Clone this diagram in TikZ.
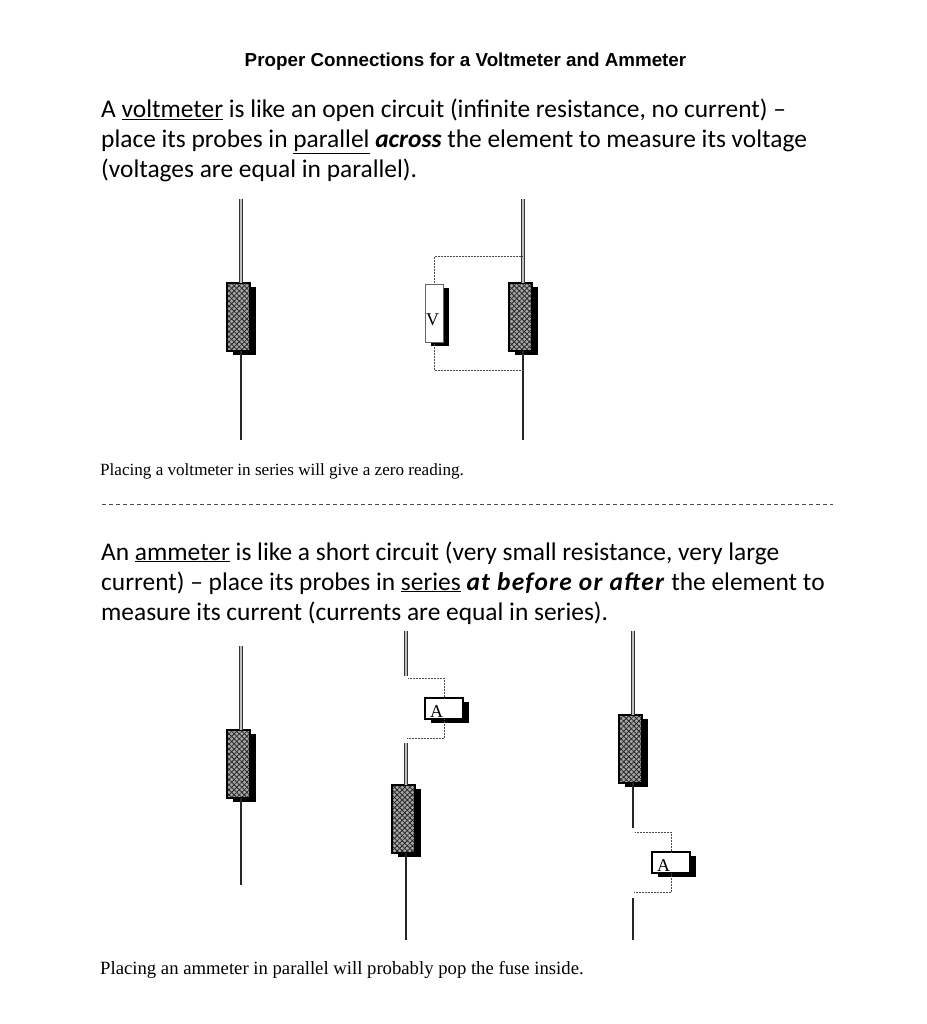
\documentclass[tikz,border=0pt]{standalone}
\usepackage{fontspec}
\setmainfont{Liberation Serif}
\newfontfamily\titlefont{Liberation Sans}
\newfontfamily\handfont{Carlito}
\usetikzlibrary{patterns.meta,shadows}
\tikzset{
  headline/.style={font=\titlefont\bfseries\fontsize{18.8}{20}\selectfont},
  handline/.style={anchor=base west, inner sep=0pt, font=\handfont\fontsize{25.4}{30}\selectfont},
  noteline/.style={anchor=base west, inner sep=0pt, font=\fontsize{17.1}{18}\selectfont},
  fuse/.style={draw=black, line width=1.2pt, inner sep=0pt, outer sep=0pt,
    minimum width=23pt, minimum height=68pt,
    drop shadow={shadow xshift=6pt, shadow yshift=-4pt, fill=black, opacity=1},
    preaction={fill=black!35},
    preaction={pattern={Lines[angle=45, distance=3.6pt, line width=0.8pt]}, pattern color=black!85},
    pattern={Lines[angle=-45, distance=3.6pt, line width=0.8pt]}, pattern color=black!85},
  meter/.style={draw=black, fill=white, inner sep=0pt, outer sep=0pt,
    drop shadow={shadow xshift=6pt, shadow yshift=-4pt, fill=black, opacity=1}},
  meterlabel/.style={anchor=base west, inner sep=0pt, font=\fontsize{18}{20}\selectfont},
  leadpair/.style={line width=1pt, black!80, double=white!75!black, double distance=1.5pt},
  leadone/.style={line width=1.4pt, black!85},
  probe/.style={line width=0.5pt, densely dotted, black!70}
}
\begin{document}
\begin{tikzpicture}[x=1pt,y=-1pt]
\useasboundingbox (0,0) rectangle (926,1024);
\fill[white] (0,0) rectangle (926,1024);
% Heading and text
\node[headline] (heading) at (465.5,61.5) {Proper Connections for a Voltmeter and Ammeter};
\node[handline] (volta) at (101,118) {A \underline{voltmeter} is like an open circuit (infinite resistance, no current) –};
\node[handline] (voltb) at (101,148) {place its probes in \underline{parallel} \textbf{\textit{across}} the element to measure its voltage};
\node[handline] (voltc) at (101,178) {(voltages are equal in parallel).};
\node[noteline] (voltnote) at (100,475) {Placing a voltmeter in series will give a zero reading.};
\node[handline] (ampa) at (101,560) {An \underline{ammeter} is like a short circuit (very small resistance, very large};
\node[handline] (ampb) at (101,590) {current) – place its probes in \underline{series} {\addfontfeature{LetterSpace=5}\textbf{\textit{at before or after}}} the element to};
\node[handline] (ampc) at (101,620) {measure its current (currents are equal in series).};
\node[noteline, font=\fontsize{18.7}{20}\selectfont] (ampnote) at (100,974) {Placing an ammeter in parallel will probably pop the fuse inside.};
% Divider
\coordinate (divl) at (102,504);
\coordinate (divr) at (833,504);
\draw[line width=0.8pt, black!70, dash pattern=on 4pt off 3pt] (divl) -- (divr);
% Data: {name, centre x, centre y, top of lead, bottom of lead}
\foreach \name/\cx/\cy/\leadtop/\leadbot in {
  fuseA/238.5/317/199/440,
  fuseB/520.5/317/199/440,
  fuseC/238.5/764/646/885,
  fuseD/403.5/819/743/940,
  fuseE/630.5/749/631/828%
} {
  \pgfmathsetmacro{\lx}{\cx+2.5}
  \node[fuse] (\name) at (\cx,\cy) {};
  \coordinate (\name top) at (\lx,\leadtop);
  \coordinate (\name bot) at (\lx,\leadbot);
  % Upper lead
  \draw[leadpair] (\name top) -- (\name top |- \name.north);
  % Lower lead
  \draw[leadone] (\name bot) -- (\name bot |- \name.south);
}
% Voltmeter
\node[meter, draw=black!60, line width=0.6pt, minimum width=18pt, minimum height=58pt] (vmeter) at (434,313) {};
\node[meterlabel] (vlabel) at (426,325) {V};
\coordinate (vjoina) at (522.5,256);
\coordinate (vjoinb) at (522.5,370);
\draw[probe] (vmeter.north) |- (vjoina);
\draw[probe] (vmeter.south) |- (vjoinb);
% Ammeter before the element
\node[meter, line width=1.1pt, minimum width=38pt, minimum height=21pt] (ameterA) at (444,708.5) {};
\node[meterlabel] (alabelA) at (430,717) {A};
\coordinate (ajoina) at (407,678);
\coordinate (ajoinb) at (407,738);
\coordinate (leadAtop) at (406,631);
\coordinate (leadAbot) at (406,676);
\draw[leadpair] (leadAtop) -- (leadAbot);
\draw[probe] (ameterA.north) |- (ajoina);
\draw[probe] (ameterA.south) |- (ajoinb);
% Ammeter after the element
\node[meter, line width=1.1pt, minimum width=38pt, minimum height=21pt] (ameterB) at (671,862.5) {};
\node[meterlabel] (alabelB) at (657,871) {A};
\coordinate (ajoinc) at (634,832);
\coordinate (ajoind) at (634,892);
\coordinate (leadBtop) at (633,898);
\coordinate (leadBbot) at (633,940);
\draw[leadone] (leadBtop) -- (leadBbot);
\draw[probe] (ameterB.north) |- (ajoinc);
\draw[probe] (ameterB.south) |- (ajoind);
\end{tikzpicture}
\end{document}
